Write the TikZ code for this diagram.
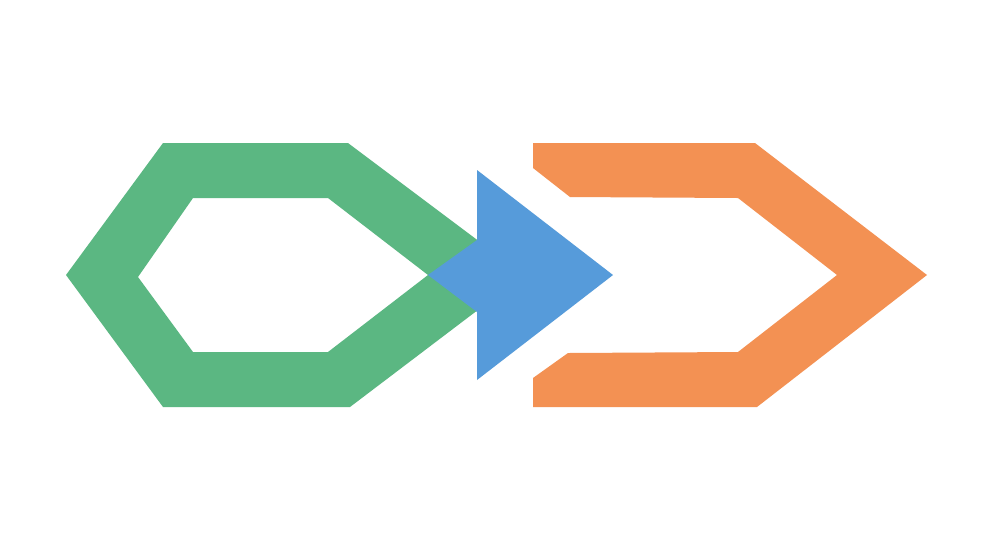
\documentclass[tikz,border=0pt]{standalone}
\begin{document}
\begin{tikzpicture}[x=1pt,y=-1pt]
\definecolor{gGreen}{RGB}{91,183,130}
\definecolor{gBlue}{RGB}{86,155,218}
\definecolor{gOrange}{RGB}{243,145,83}
\tikzset{shapefill/.style={draw=none,line join=miter}}
\useasboundingbox (0,0) rectangle (992,558);
\fill[white] (0,0) rectangle (992,558);
% green hexagon ring
\fill[shapefill,gGreen,even odd rule]
  (163,143) -- (348,143) -- (524,275) -- (350,407) -- (163,407) -- (66,275) -- cycle
  (193,198) -- (328,198) -- (428,275) -- (328,352) -- (193,352) -- (138,277) -- cycle;
% orange chevron
\fill[shapefill,gOrange]
  (533,143) -- (755,143) -- (927,275) -- (757,407) -- (533,407) -- (533,378)
  -- (568,353) -- (738,352) -- (837,275) -- (738,198) -- (570,197) -- (533,168) -- cycle;
% blue arrow head, filling the notch of the green ring
\fill[shapefill,gBlue] (477,170) -- (613,275) -- (477,380) -- (477,312)
  -- (428,275) -- (477,240) -- cycle;
\end{tikzpicture}
\end{document}
